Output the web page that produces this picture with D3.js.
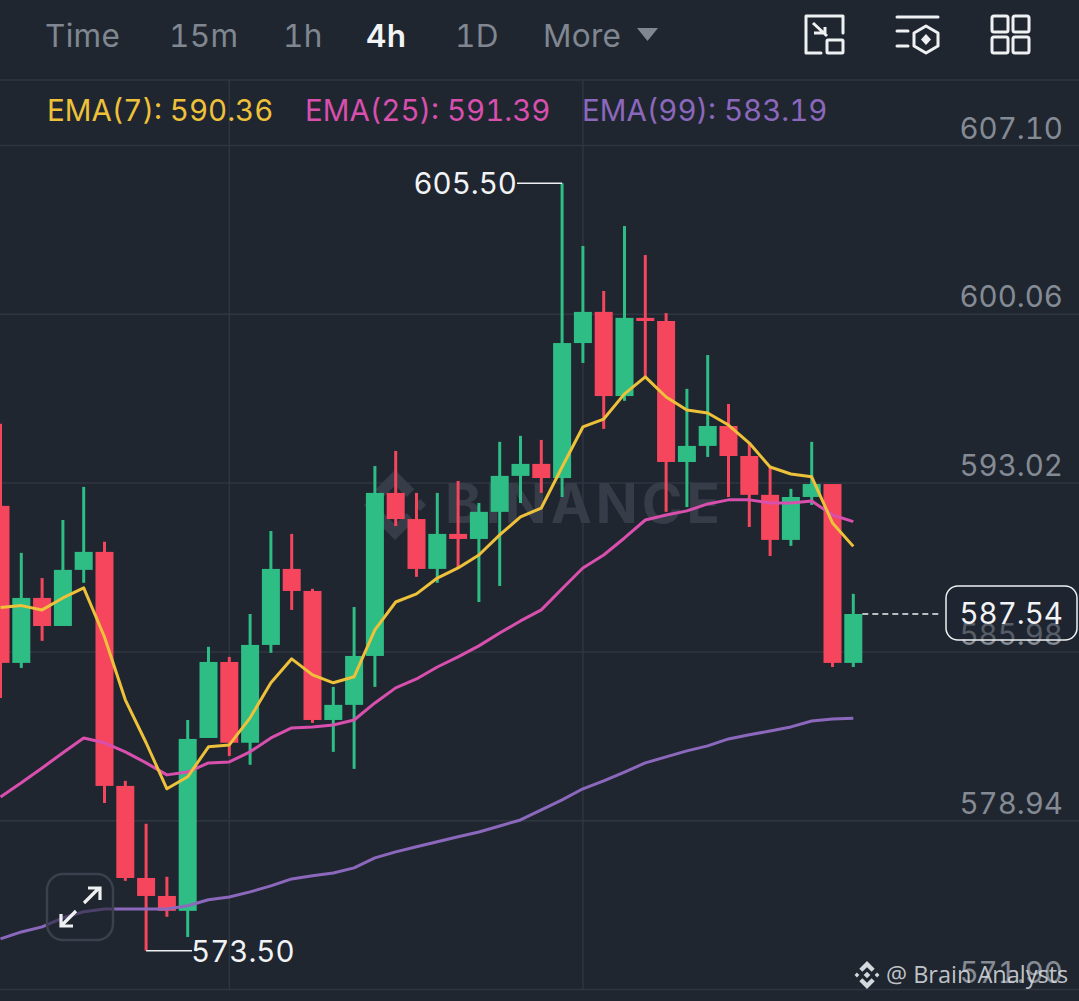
<!DOCTYPE html>
<html>
<head>
<meta charset="utf-8">
<script src="https://cdn.jsdelivr.net/npm/d3@7"></script>
<style>
html, body { margin: 0; padding: 0; background: #1f2630; overflow: hidden; }
svg { display: block; }
text { font-family: Inter, "Noto Sans", sans-serif; font-variant-numeric: tabular-nums; }
</style>
</head>
<body>
<div id="c1"></div>
<script>
// Candles
var opens = [592.05, 585.50, 588.21, 587.04, 589.38, 590.13, 580.37, 576.53, 575.78, 575.16, 582.37, 585.54, 582.17, 586.25, 589.42, 588.50, 583.12, 583.75, 585.79, 592.59, 591.50, 589.42, 590.88, 590.67, 591.80, 593.30, 593.80, 593.21, 598.84, 600.14, 596.63, 599.89, 599.76, 593.88, 594.55, 595.38, 594.13, 592.51, 590.63, 592.42, 592.96, 585.50];
var closes = [585.50, 588.21, 587.04, 589.38, 590.13, 580.37, 576.53, 575.78, 575.16, 582.33, 585.54, 582.17, 586.25, 589.42, 588.50, 583.12, 583.75, 585.79, 592.59, 591.50, 589.42, 590.88, 590.67, 591.80, 593.30, 593.80, 593.21, 598.84, 600.14, 596.63, 599.89, 599.76, 593.88, 594.55, 595.38, 594.13, 592.51, 590.63, 592.42, 592.96, 585.50, 587.54];
var highs = [595.47, 590.09, 589.04, 591.46, 592.84, 590.55, 580.58, 578.79, 576.58, 583.12, 586.17, 585.75, 587.54, 591.00, 590.88, 588.59, 584.50, 587.83, 593.71, 594.34, 592.59, 592.59, 593.09, 592.17, 594.72, 594.97, 594.80, 605.50, 602.89, 601.01, 603.72, 602.51, 600.09, 596.93, 598.34, 596.30, 594.67, 593.67, 592.76, 594.72, 592.96, 588.38];
var lows = [584.04, 585.29, 586.42, 587.04, 588.84, 579.66, 576.41, 573.50, 574.91, 574.07, 582.37, 581.62, 581.25, 585.92, 587.71, 583.00, 581.79, 581.08, 584.50, 591.21, 589.09, 588.84, 589.46, 588.04, 588.71, 592.17, 592.59, 592.42, 598.01, 595.26, 596.43, 597.47, 591.80, 592.00, 594.09, 592.42, 591.17, 589.96, 590.38, 592.09, 585.33, 585.33];

// Moving averages
var ema7 = [587.81, 587.89, 587.71, 588.21, 588.63, 586.58, 583.96, 582.17, 580.25, 580.75, 582.00, 582.08, 583.21, 584.67, 585.67, 585.00, 584.67, 584.92, 586.88, 588.04, 588.38, 589.04, 589.46, 590.00, 590.84, 591.59, 591.96, 593.67, 595.34, 595.67, 596.72, 597.43, 596.59, 596.05, 595.92, 595.42, 594.67, 593.67, 593.38, 593.26, 591.34, 590.36];
var ema25 = [579.91, 580.50, 581.12, 581.75, 582.37, 582.17, 581.79, 581.33, 580.83, 580.95, 581.33, 581.37, 581.79, 582.37, 582.79, 582.83, 582.91, 583.12, 583.83, 584.46, 584.83, 585.33, 585.75, 586.21, 586.75, 587.25, 587.71, 588.59, 589.46, 590.00, 590.71, 591.46, 591.67, 591.84, 592.13, 592.30, 592.30, 592.17, 592.17, 592.25, 591.67, 591.39];
var ema99 = [573.99, 574.28, 574.49, 574.87, 575.12, 575.24, 575.24, 575.24, 575.24, 575.37, 575.62, 575.74, 575.95, 576.20, 576.49, 576.62, 576.74, 576.95, 577.37, 577.62, 577.83, 578.04, 578.25, 578.45, 578.70, 578.95, 579.37, 579.79, 580.25, 580.58, 580.95, 581.33, 581.58, 581.83, 582.04, 582.33, 582.50, 582.66, 582.83, 583.08, 583.16, 583.19];

// Tick labels and header text
var priceTicks = [607.10, 600.06, 593.02, 585.98, 578.94, 571.90];
var timeGridCandles = [11, 28];
var tabs = ["Time", "15m", "1h", "4h", "1D", "More"];
var tabX = [45, 169, 283, 366, 455, 543];
var emaLabels = ["EMA(7): 590.36", "EMA(25): 591.39", "EMA(99): 583.19"];
var emaLabelX = [47, 305, 582];
var emaColors = ["#eec13a", "#d84fae", "#8c68bd"];

var w = 1079;
var h = 1001;
var gridColor = "#2f3640";
var bg = "#1f2630";
var up = "#2ebd85";
var down = "#f6465d";

var svg = d3.select("#c1").append("svg")
    .attr("width", w)
    .attr("height", h);

svg.append("rect").attr("width", w).attr("height", h).attr("fill", bg);

// Scales
var x = d3.scaleLinear().domain([0, 41]).range([0.5, 853.3]);
var y = d3.scaleLinear().domain([571.90, 607.10]).range([989, 145]);

// Binance logo, in unit coordinates
function logo(g, cx, cy, r, color) {
    var shapes = [
        [[0, -0.24], [0.24, 0], [0, 0.24], [-0.24, 0]],
        [[-0.72, -0.17], [-0.55, 0], [-0.72, 0.17], [-0.89, 0]],
        [[0.72, -0.17], [0.89, 0], [0.72, 0.17], [0.55, 0]],
        [[0, -1], [0.55, -0.45], [0.33, -0.23], [0, -0.56], [-0.33, -0.23], [-0.55, -0.45]],
        [[0, 1], [0.55, 0.45], [0.33, 0.23], [0, 0.56], [-0.33, 0.23], [-0.55, 0.45]]
    ];
    g.selectAll("polygon.l" + cx)
        .data(shapes)
        .enter().append("polygon")
        .attr("fill", color)
        .attr("points", function (s) {
            return s.map(function (p) { return (cx + p[0] * r) + "," + (cy + p[1] * r); }).join(" ");
        });
}

// Header lines
svg.append("line").attr("x1", 0).attr("x2", w).attr("y1", 80).attr("y2", 80)
    .attr("stroke", gridColor).attr("stroke-width", 1.5);

// Vertical grid
svg.selectAll("line.vgrid")
    .data(timeGridCandles)
    .enter().append("line")
    .attr("class", "vgrid")
    .attr("x1", function (d) { return x(d); })
    .attr("x2", function (d) { return x(d); })
    .attr("y1", 80)
    .attr("y2", y(571.90))
    .attr("stroke", gridColor)
    .attr("stroke-width", 1.5);

// Horizontal grid + price labels
var axis = d3.axisRight(y)
    .tickValues(priceTicks)
    .tickFormat(d3.format(".2f"))
    .tickSize(w);

var axisG = svg.append("g").call(axis);
axisG.select(".domain").remove();
axisG.selectAll(".tick line").attr("stroke", gridColor).attr("stroke-width", 1.5);
axisG.selectAll(".tick text")
    .attr("x", 1063)
    .attr("y", -7)
    .attr("dy", 0)
    .attr("text-anchor", "end")
    .attr("fill", "#858b94")
    .style("font-size", "29.5px");

// Watermark
logo(svg, 395, 505, 35, "#363d48");
svg.append("text")
    .attr("x", 445)
    .attr("y", 523)
    .attr("fill", "#363d48")
    .style("font-size", "55px")
    .style("font-weight", 700)
    .style("letter-spacing", "4px")
    .text("BINANCE");

// Candles
var idx = d3.range(opens.length);

svg.selectAll("line.wick")
    .data(idx)
    .enter().append("line")
    .attr("class", "wick")
    .attr("x1", function (i) { return x(i); })
    .attr("x2", function (i) { return x(i); })
    .attr("y1", function (i) { return y(highs[i]); })
    .attr("y2", function (i) { return y(lows[i]); })
    .attr("stroke", function (i) { return closes[i] >= opens[i] ? up : down; })
    .attr("stroke-width", 3);

svg.selectAll("rect.body")
    .data(idx)
    .enter().append("rect")
    .attr("class", "body")
    .attr("x", function (i) { return x(i) - 9; })
    .attr("width", 18)
    .attr("y", function (i) { return y(Math.max(opens[i], closes[i])); })
    .attr("height", function (i) { return Math.max(2, Math.abs(y(opens[i]) - y(closes[i]))); })
    .attr("fill", function (i) { return closes[i] >= opens[i] ? up : down; });

// EMA lines
var line = d3.line()
    .x(function (d, i) { return x(i); })
    .y(function (d) { return y(d); });

svg.selectAll("path.ema")
    .data([ema99, ema25, ema7])
    .enter().append("path")
    .attr("class", "ema")
    .attr("fill", "none")
    .attr("stroke", function (d, i) { return emaColors[2 - i]; })
    .attr("stroke-width", 3)
    .attr("stroke-linejoin", "round")
    .attr("d", line);

// Tabs
svg.selectAll("text.tab")
    .data(tabs)
    .enter().append("text")
    .attr("class", "tab")
    .attr("x", function (d, i) { return tabX[i]; })
    .attr("y", 47)
    .attr("fill", function (d) { return d == "4h" ? "#f2f3f5" : "#808791"; })
    .style("font-size", "31.5px")
    .style("font-weight", function (d) { return d == "4h" ? 600 : 400; })
    .style("letter-spacing", "0.3px")
    .text(function (d) { return d; });

svg.append("polygon")
    .attr("points", "637,28 658,28 647.5,41")
    .attr("fill", "#808791");

// Header icons
var icons = svg.append("g")
    .attr("fill", "none")
    .attr("stroke", "#eef0f2")
    .attr("stroke-width", 3)
    .attr("stroke-linecap", "round")
    .attr("stroke-linejoin", "round");
icons.append("path").attr("d", "M843,33 V16 H806 V53 H821");
icons.append("rect").attr("x", 827).attr("y", 40).attr("width", 16).attr("height", 13).attr("rx", 1);
icons.append("path").attr("d", "M813,23 L827,36 M814,33 H825 V27").attr("stroke-linecap", "butt");
icons.append("path").attr("d", "M897,17 H938 M897,31 H908 M897,46 H908");
icons.append("path").attr("d", "M926,26 L938,33 V46 L926,53 L914,46 V33 Z");
icons.append("polygon").attr("points", "926,34 931,39.5 926,45 921,39.5").attr("fill", "#eef0f2").attr("stroke", "none");
icons.selectAll("rect.sq")
    .data([[992, 16], [1013, 16], [992, 37], [1013, 37]])
    .enter().append("rect")
    .attr("class", "sq")
    .attr("x", function (d) { return d[0]; })
    .attr("y", function (d) { return d[1]; })
    .attr("width", 16)
    .attr("height", 16)
    .attr("rx", 2);

// EMA legend
svg.selectAll("text.legend")
    .data(emaLabels)
    .enter().append("text")
    .attr("class", "legend")
    .attr("x", function (d, i) { return emaLabelX[i]; })
    .attr("y", 121)
    .attr("fill", function (d, i) { return emaColors[i]; })
    .style("font-size", "29.5px")
    .text(function (d) { return d; });

// High / low markers
var hiIdx = d3.maxIndex(highs);
var loIdx = d3.minIndex(lows);

svg.append("line")
    .attr("x1", 517).attr("x2", x(hiIdx))
    .attr("y1", y(highs[hiIdx])).attr("y2", y(highs[hiIdx]))
    .attr("stroke", "#eef0f2").attr("stroke-width", 1.5);
svg.append("text")
    .attr("x", 517).attr("y", y(highs[hiIdx]) + 11)
    .attr("text-anchor", "end")
    .attr("fill", "#f2f3f5")
    .style("font-size", "29.5px")
    .text(d3.format(".2f")(highs[hiIdx]));

svg.append("line")
    .attr("x1", x(loIdx)).attr("x2", 192)
    .attr("y1", y(lows[loIdx])).attr("y2", y(lows[loIdx]))
    .attr("stroke", "#eef0f2").attr("stroke-width", 1.5);
svg.append("text")
    .attr("x", 191).attr("y", y(lows[loIdx]) + 11)
    .attr("fill", "#f2f3f5")
    .style("font-size", "29.5px")
    .text(d3.format(".2f")(lows[loIdx]));

// Last price
var last = closes[closes.length - 1];
svg.append("line")
    .attr("x1", x(41) + 9).attr("x2", 942)
    .attr("y1", y(last)).attr("y2", y(last))
    .attr("stroke", "#eef0f2")
    .attr("stroke-width", 1.5)
    .attr("stroke-dasharray", "6,4");
svg.append("rect")
    .attr("x", 946).attr("y", 586)
    .attr("width", 131).attr("height", 54)
    .attr("rx", 12)
    .attr("fill", bg).attr("fill-opacity", 0.45)
    .attr("stroke", "#eef0f2").attr("stroke-width", 1.5);
svg.append("text")
    .attr("x", 1063).attr("y", 624)
    .attr("text-anchor", "end")
    .attr("fill", "#f2f3f5")
    .style("font-size", "29.5px")
    .text(d3.format(".2f")(last));

// Expand button
svg.append("rect")
    .attr("x", 47).attr("y", 874)
    .attr("width", 66).attr("height", 66)
    .attr("rx", 16)
    .attr("fill", bg).attr("fill-opacity", 0.6)
    .attr("stroke", "#3a414c").attr("stroke-width", 2.5);
svg.append("path")
    .attr("d", "M84,903 L99,888 M88,888 H100 V900 M76,911 L61,926 M61,914 V926 H73")
    .attr("fill", "none")
    .attr("stroke", "#eef0f2")
    .attr("stroke-width", 3.2);

// Author tag
logo(svg, 867, 975, 14, "#d5d8dc");
svg.append("text")
    .attr("x", 886).attr("y", 983)
    .attr("fill", "#d5d8dc")
    .attr("fill-opacity", 0.9)
    .style("font-family", "'Open Sans', sans-serif")
    .style("font-size", "23.5px")
    .text("@ Brain Analysts");
</script>
</body>
</html>
